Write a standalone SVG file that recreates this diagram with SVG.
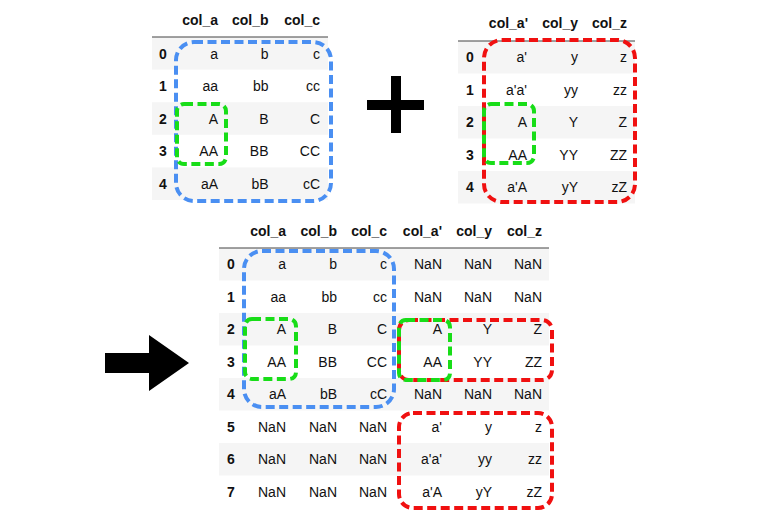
<svg xmlns="http://www.w3.org/2000/svg" width="768" height="518" viewBox="0 0 768 518">
<style>
text{font-family:"Liberation Sans",Arial,sans-serif;font-size:14px;fill:#111}
.h{font-weight:bold;text-anchor:end}
.i{font-weight:bold;text-anchor:middle}
.v{text-anchor:end}
.sh{fill:#f5f5f5}
.hl{stroke:#444;stroke-width:1.2}
.box{fill:none;stroke-width:4;stroke-dasharray:9 4.5}
.blue{stroke:#4a8ff2}
.red{stroke:#f01010}
.green{stroke:#18dd18}
</style>
<rect width="768" height="518" fill="#fff"/>

<g id="table_left">
<rect class="sh" x="152" y="37" width="176" height="32.6"/>
<rect class="sh" x="152" y="102.2" width="176" height="32.6"/>
<rect class="sh" x="152" y="167.4" width="176" height="32.6"/>
<line class="hl" x1="152" y1="37" x2="328" y2="37"/>
<text class="h" x="218" y="25">col_a</text><text class="h" x="268.5" y="25">col_b</text><text class="h" x="320" y="25">col_c</text>
<text class="i" x="163" y="58.5">0</text><text class="v" x="218" y="58.5">a</text><text class="v" x="268.5" y="58.5">b</text><text class="v" x="320" y="58.5">c</text>
<text class="i" x="163" y="91.1">1</text><text class="v" x="218" y="91.1">aa</text><text class="v" x="268.5" y="91.1">bb</text><text class="v" x="320" y="91.1">cc</text>
<text class="i" x="163" y="123.7">2</text><text class="v" x="218" y="123.7">A</text><text class="v" x="268.5" y="123.7">B</text><text class="v" x="320" y="123.7">C</text>
<text class="i" x="163" y="156.3">3</text><text class="v" x="218" y="156.3">AA</text><text class="v" x="268.5" y="156.3">BB</text><text class="v" x="320" y="156.3">CC</text>
<text class="i" x="163" y="188.9">4</text><text class="v" x="218" y="188.9">aA</text><text class="v" x="268.5" y="188.9">bB</text><text class="v" x="320" y="188.9">cC</text>
</g>

<g id="table_right">
<rect class="sh" x="458" y="41" width="177" height="32.5"/>
<rect class="sh" x="458" y="106" width="177" height="32.5"/>
<rect class="sh" x="458" y="171" width="177" height="32.5"/>
<line class="hl" x1="458" y1="41" x2="635" y2="41"/>
<text class="h" x="528" y="28">col_a'</text><text class="h" x="578" y="28">col_y</text><text class="h" x="627" y="28">col_z</text>
<text class="i" x="470" y="62.2">0</text><text class="v" x="527" y="62.2">a'</text><text class="v" x="578" y="62.2">y</text><text class="v" x="627" y="62.2">z</text>
<text class="i" x="470" y="94.7">1</text><text class="v" x="527" y="94.7">a'a'</text><text class="v" x="578" y="94.7">yy</text><text class="v" x="627" y="94.7">zz</text>
<text class="i" x="470" y="127.2">2</text><text class="v" x="527" y="127.2">A</text><text class="v" x="578" y="127.2">Y</text><text class="v" x="627" y="127.2">Z</text>
<text class="i" x="470" y="159.7">3</text><text class="v" x="527" y="159.7">AA</text><text class="v" x="578" y="159.7">YY</text><text class="v" x="627" y="159.7">ZZ</text>
<text class="i" x="470" y="192.2">4</text><text class="v" x="527" y="192.2">a'A</text><text class="v" x="578" y="192.2">yY</text><text class="v" x="627" y="192.2">zZ</text>
</g>

<g id="table_result">
<rect class="sh" x="219" y="248" width="330" height="32.5"/>
<rect class="sh" x="219" y="313" width="330" height="32.5"/>
<rect class="sh" x="219" y="378" width="330" height="32.5"/>
<rect class="sh" x="219" y="443" width="330" height="32.5"/>
<line class="hl" x1="219" y1="248" x2="549" y2="248"/>
<text class="h" x="286" y="236">col_a</text><text class="h" x="337" y="236">col_b</text><text class="h" x="387" y="236">col_c</text><text class="h" x="442" y="236">col_a'</text><text class="h" x="492" y="236">col_y</text><text class="h" x="542" y="236">col_z</text>
<text class="i" x="231" y="269.2">0</text><text class="v" x="286" y="269.2">a</text><text class="v" x="337" y="269.2">b</text><text class="v" x="387" y="269.2">c</text><text class="v" x="442" y="269.2">NaN</text><text class="v" x="492" y="269.2">NaN</text><text class="v" x="542" y="269.2">NaN</text>
<text class="i" x="231" y="301.7">1</text><text class="v" x="286" y="301.7">aa</text><text class="v" x="337" y="301.7">bb</text><text class="v" x="387" y="301.7">cc</text><text class="v" x="442" y="301.7">NaN</text><text class="v" x="492" y="301.7">NaN</text><text class="v" x="542" y="301.7">NaN</text>
<text class="i" x="231" y="334.2">2</text><text class="v" x="286" y="334.2">A</text><text class="v" x="337" y="334.2">B</text><text class="v" x="387" y="334.2">C</text><text class="v" x="442" y="334.2">A</text><text class="v" x="492" y="334.2">Y</text><text class="v" x="542" y="334.2">Z</text>
<text class="i" x="231" y="366.7">3</text><text class="v" x="286" y="366.7">AA</text><text class="v" x="337" y="366.7">BB</text><text class="v" x="387" y="366.7">CC</text><text class="v" x="442" y="366.7">AA</text><text class="v" x="492" y="366.7">YY</text><text class="v" x="542" y="366.7">ZZ</text>
<text class="i" x="231" y="399.2">4</text><text class="v" x="286" y="399.2">aA</text><text class="v" x="337" y="399.2">bB</text><text class="v" x="387" y="399.2">cC</text><text class="v" x="442" y="399.2">NaN</text><text class="v" x="492" y="399.2">NaN</text><text class="v" x="542" y="399.2">NaN</text>
<text class="i" x="231" y="431.7">5</text><text class="v" x="286" y="431.7">NaN</text><text class="v" x="337" y="431.7">NaN</text><text class="v" x="387" y="431.7">NaN</text><text class="v" x="442" y="431.7">a'</text><text class="v" x="492" y="431.7">y</text><text class="v" x="542" y="431.7">z</text>
<text class="i" x="231" y="464.2">6</text><text class="v" x="286" y="464.2">NaN</text><text class="v" x="337" y="464.2">NaN</text><text class="v" x="387" y="464.2">NaN</text><text class="v" x="442" y="464.2">a'a'</text><text class="v" x="492" y="464.2">yy</text><text class="v" x="542" y="464.2">zz</text>
<text class="i" x="231" y="496.7">7</text><text class="v" x="286" y="496.7">NaN</text><text class="v" x="337" y="496.7">NaN</text><text class="v" x="387" y="496.7">NaN</text><text class="v" x="442" y="496.7">a'A</text><text class="v" x="492" y="496.7">yY</text><text class="v" x="542" y="496.7">zZ</text>
</g>

<g id="highlights">
<rect class="box blue" x="176" y="42" width="155" height="159" rx="18"/>
<rect class="box green" x="177" y="104" width="49" height="60" rx="7"/>
<rect class="box red" x="484" y="40" width="151" height="162" rx="18"/>
<rect class="box green" x="484" y="104" width="50" height="59" rx="7"/>
<rect class="box blue" x="244" y="251" width="150" height="156" rx="18"/>
<rect class="box green" x="245" y="319" width="51" height="60" rx="7"/>
<rect class="box red" x="399" y="320" width="153" height="60" rx="10"/>
<rect class="box green" x="399" y="320" width="51" height="60" rx="7"/>
<rect class="box red" x="399" y="413" width="153" height="95" rx="14"/>
</g>

<g id="plus">
<rect x="391" y="76" width="10" height="57" fill="#000"/>
<rect x="367" y="100" width="57" height="10" fill="#000"/>
</g>

<g id="arrow">
<polygon points="105,353 149,353 149,335 189,363 149,391 149,373 105,373" fill="#000"/>
</g>
</svg>
